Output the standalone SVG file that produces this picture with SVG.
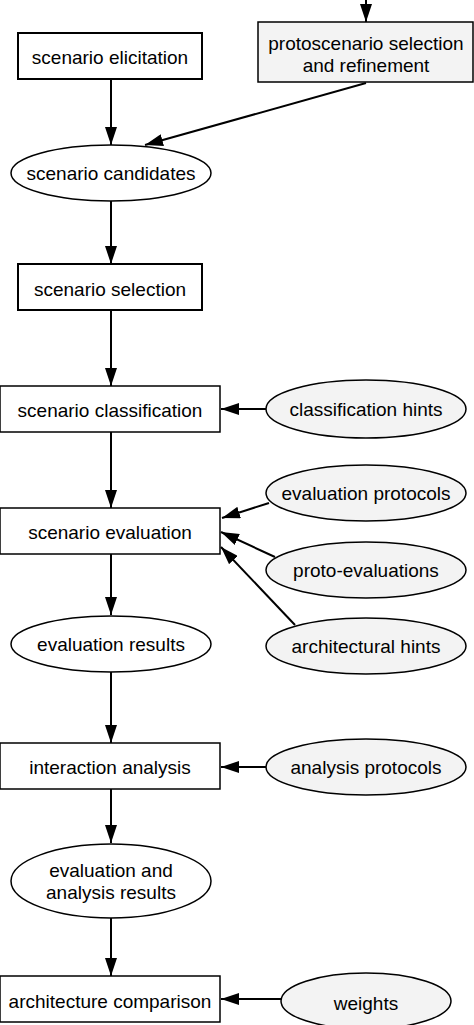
<svg xmlns="http://www.w3.org/2000/svg" width="474" height="1025" viewBox="0 0 474 1025">
<style>
text{font-family:"Liberation Sans",Arial,sans-serif;font-size:19px;fill:#000;text-anchor:middle;dominant-baseline:central}
.box{fill:#fff;stroke:#000;stroke-width:1.5}
.thick{stroke-width:2}
.ell{fill:#fff;stroke:#000;stroke-width:1.5}
.box.gray,.ell.gray{fill:#f3f3f3}
.edge{stroke:#000;stroke-width:2;fill:none;marker-end:url(#ah)}
</style>
<defs>
<marker id="ah" viewBox="0 0 18 12" refX="18" refY="6" markerWidth="18" markerHeight="12" markerUnits="userSpaceOnUse" orient="auto">
<path d="M0,0 L18,6 L0,12 Z" fill="#000"/>
</marker>
</defs>
<rect width="474" height="1025" fill="#fff"/>
<g id="connectors">
<line class="edge" x1="366" y1="0" x2="366" y2="22"/>
<line class="edge" x1="111" y1="79" x2="111" y2="145"/>
<line class="edge" x1="366" y1="83" x2="145" y2="145"/>
<line class="edge" x1="111" y1="201" x2="111" y2="264"/>
<line class="edge" x1="111" y1="310" x2="111" y2="386"/>
<line class="edge" x1="266" y1="409" x2="221" y2="409"/>
<line class="edge" x1="111" y1="432" x2="111" y2="508"/>
<line class="edge" x1="269" y1="503" x2="222" y2="518"/>
<line class="edge" x1="275" y1="557" x2="221" y2="532"/>
<line class="edge" x1="295" y1="625" x2="221" y2="547"/>
<line class="edge" x1="111" y1="554" x2="111" y2="615"/>
<line class="edge" x1="111" y1="672" x2="111" y2="743"/>
<line class="edge" x1="266" y1="767" x2="221" y2="767"/>
<line class="edge" x1="111" y1="789" x2="111" y2="843"/>
<line class="edge" x1="111" y1="918" x2="111" y2="976"/>
<line class="edge" x1="281" y1="999" x2="221" y2="999"/>
</g>
<g id="scenario-elicitation">
<rect class="box thick" x="18" y="33" width="184" height="46"/>
<text x="110" y="57">scenario elicitation</text>
</g>
<g id="protoscenario-selection">
<rect class="box gray" x="258" y="22" width="215" height="60"/>
<text x="366" y="43">protoscenario selection</text>
<text x="366" y="65">and refinement</text>
</g>
<g id="scenario-candidates">
<ellipse class="ell" cx="111" cy="173" rx="100" ry="28"/>
<text x="111" y="173">scenario candidates</text>
</g>
<g id="scenario-selection">
<rect class="box thick" x="18" y="264" width="184" height="46"/>
<text x="110" y="289">scenario selection</text>
</g>
<g id="scenario-classification">
<rect class="box" x="0" y="386" width="220" height="46"/>
<text x="110" y="410">scenario classification</text>
</g>
<g id="classification-hints">
<ellipse class="ell gray" cx="366" cy="409" rx="100" ry="29"/>
<text x="366" y="409">classification hints</text>
</g>
<g id="scenario-evaluation">
<rect class="box" x="0" y="508" width="220" height="46"/>
<text x="110" y="532">scenario evaluation</text>
</g>
<g id="evaluation-protocols">
<ellipse class="ell gray" cx="366" cy="493" rx="100" ry="28"/>
<text x="366" y="493">evaluation protocols</text>
</g>
<g id="proto-evaluations">
<ellipse class="ell gray" cx="366" cy="570" rx="100" ry="28"/>
<text x="366" y="570">proto-evaluations</text>
</g>
<g id="architectural-hints">
<ellipse class="ell gray" cx="366" cy="646" rx="100" ry="28"/>
<text x="366" y="646">architectural hints</text>
</g>
<g id="evaluation-results">
<ellipse class="ell" cx="111" cy="644" rx="100" ry="28"/>
<text x="111" y="644">evaluation results</text>
</g>
<g id="interaction-analysis">
<rect class="box" x="0" y="743" width="220" height="46"/>
<text x="110" y="767">interaction analysis</text>
</g>
<g id="analysis-protocols">
<ellipse class="ell gray" cx="366" cy="767" rx="100" ry="28"/>
<text x="366" y="767">analysis protocols</text>
</g>
<g id="evaluation-analysis-results">
<ellipse class="ell" cx="111" cy="881" rx="100" ry="37"/>
<text x="111" y="870">evaluation and</text>
<text x="111" y="892">analysis results</text>
</g>
<g id="architecture-comparison">
<rect class="box" x="0" y="976" width="220" height="46"/>
<text x="110" y="1001">architecture comparison</text>
</g>
<g id="weights">
<ellipse class="ell gray" cx="366" cy="1001" rx="85" ry="28"/>
<text x="366" y="1003">weights</text>
</g>
</svg>
